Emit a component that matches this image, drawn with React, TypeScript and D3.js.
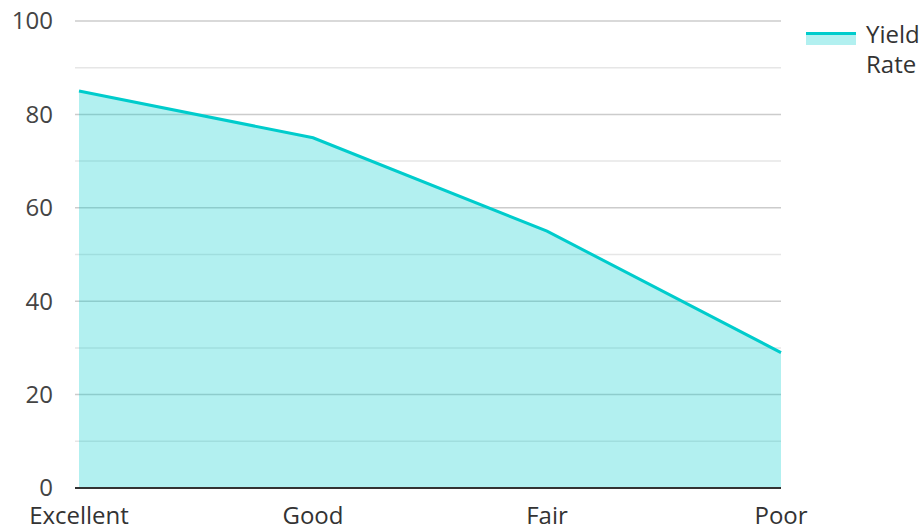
import React from "react";
import * as d3 from "d3";

const categories = ["Excellent", "Good", "Fair", "Poor"];
const yieldRate = [85, 75, 55, 29];
const yTicks = [0, 20, 40, 60, 80, 100];
const minorTicks = [10, 30, 50, 70, 90];
const legendLines = ["Yield", "Rate"];

const W = 923;
const H = 529;
const left = 79;
const right = 781;
const top = 21;
const bottom = 488;
const font = "'Open Sans', 'Noto Sans', sans-serif";

export default function App() {
  const x = d3.scalePoint<string>().domain(categories).range([left, right]);
  const y = d3.scaleLinear().domain([0, 100]).range([bottom, top]);
  const pts = categories.map((c, i) => [x(c) as number, y(yieldRate[i])] as [number, number]);
  const line = d3.line<[number, number]>()(pts) as string;
  const area = d3
    .area<[number, number]>()
    .x((d) => d[0])
    .y0(y(0))
    .y1((d) => d[1])(pts) as string;

  return (
    <svg width={W} height={H} style={{ position: "absolute", left: 0, top: 0, fontFamily: font }}>
      {minorTicks.map((t) => (
        <line key={"m" + t} x1={left - 4} x2={right} y1={y(t)} y2={y(t)} stroke="#e6e6e6" strokeWidth={1.5} />
      ))}
      {yTicks.filter((t) => t > 0).map((t) => (
        <line key={"g" + t} x1={left - 4} x2={right} y1={y(t)} y2={y(t)} stroke="#cccccc" strokeWidth={1.5} />
      ))}
      <path d={area} fill="#00cccc" fillOpacity={0.3} />
      <path d={line} fill="none" stroke="#00cccc" strokeWidth={3} />
      <line x1={left - 4} x2={right} y1={bottom} y2={bottom} stroke="#333333" strokeWidth={2} />
      {yTicks.map((t) => (
        <text key={"t" + t} x={53} y={y(t)} dy="0.35em" textAnchor="end" fontSize={24} fill="#444">
          {t}
        </text>
      ))}
      {categories.map((c) => (
        <text key={c} x={x(c) as number} y={524} textAnchor="middle" fontSize={24} fill="#333">
          {c}
        </text>
      ))}
      <rect x={806} y={32} width={50} height={13} fill="#00cccc" fillOpacity={0.3} />
      <line x1={806} x2={856} y1={33.5} y2={33.5} stroke="#00cccc" strokeWidth={3} />
      {legendLines.map((s, i) => (
        <text key={s} x={866} y={43 + i * 30} fontSize={24} fill="#333">
          {s}
        </text>
      ))}
    </svg>
  );
}
